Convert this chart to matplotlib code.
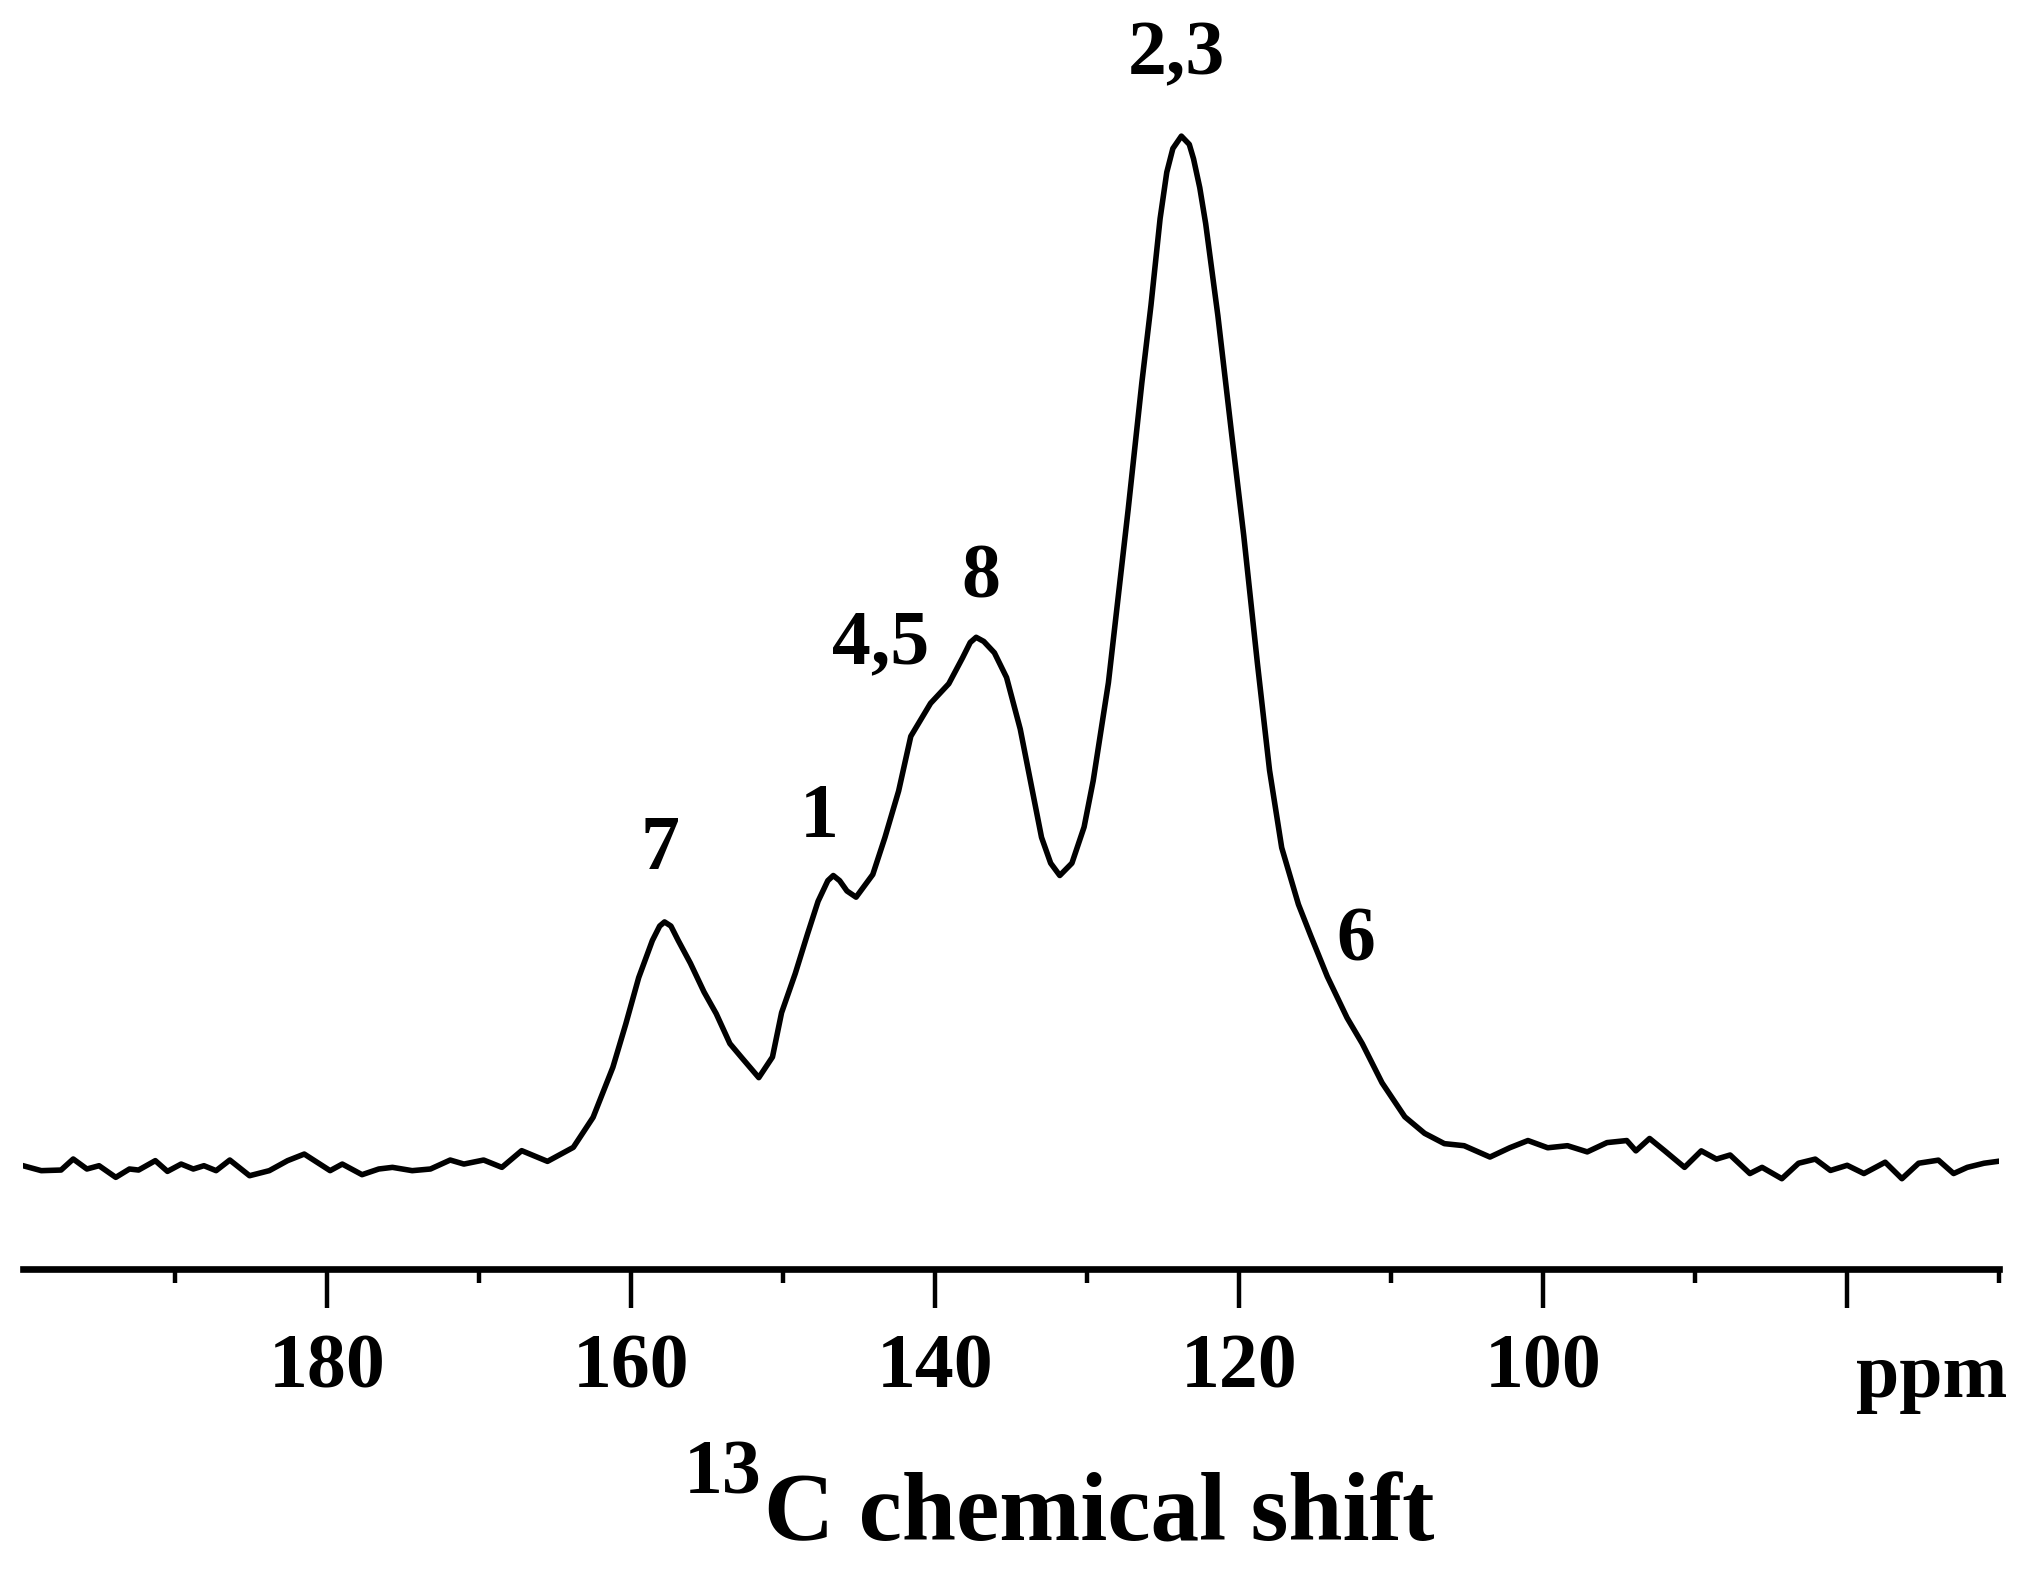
import matplotlib.pyplot as plt

# 13C CP-MAS spectrum
shift_ppm = [
    200.0, 198.8, 197.5, 196.7, 195.8, 195.0, 193.9, 193.0, 192.4, 191.3,
    190.5, 189.6, 188.8, 188.1, 187.3, 186.4, 185.1, 183.8, 182.6, 181.5,
    179.8, 179.0, 177.7, 176.6, 175.7, 174.4, 173.2, 171.9, 171.0, 169.7,
    168.5, 167.2, 165.5, 163.8, 162.5, 161.2, 160.35, 159.5, 158.6, 158.12,
    157.8, 157.38, 156.9, 156.1, 155.2, 154.4, 153.5, 152.7, 151.6, 150.7,
    150.1, 149.2, 148.4, 147.7, 147.06, 146.7, 146.28, 145.8, 145.2, 144.1,
    143.3, 142.4, 141.6, 140.3, 139.1, 138.2, 137.69, 137.3, 136.80, 136.1,
    135.3, 134.4, 133.6, 133.0, 132.4, 131.8, 131.0, 130.2, 129.6, 128.6,
    127.3, 126.4, 125.8, 125.2, 124.76, 124.36, 123.8, 123.28, 123.0, 122.59,
    122.2, 121.4, 120.5, 119.7, 118.8, 118.0, 117.2, 116.1, 115.3, 114.2,
    112.9, 111.9, 110.6, 109.1, 107.8, 106.5, 105.2, 103.5, 102.2, 101.0,
    99.7, 98.4, 97.1, 95.8, 94.5, 93.9, 93.0, 92.0, 90.7, 89.6,
    88.6, 87.7, 86.4, 85.6, 84.3, 83.2, 82.1, 81.1, 80.0, 78.9,
    77.5, 76.4, 75.3, 74.0, 73.0, 72.1, 71.0, 70.0,
]
intensity = [
    0.16, -0.32, -0.26, 0.81, -0.16, 0.16, -0.97, -0.16, -0.26, 0.65,
    -0.39, 0.32, -0.16, 0.16, -0.32, 0.71, -0.81, -0.32, 0.65, 1.29,
    -0.32, 0.32, -0.71, -0.16, 0.0, -0.32, -0.16, 0.71, 0.32, 0.71,
    0.0, 1.62, 0.58, 1.94, 4.85, 9.7, 13.9, 18.4, 22.0, 23.4,
    23.8, 23.4, 22.0, 19.8, 17.0, 14.9, 12.0, 10.6, 8.7, 10.7,
    15.0, 18.8, 22.6, 25.8, 27.8, 28.3, 27.8, 26.8, 26.2, 28.4,
    32.0, 36.5, 41.8, 45.0, 46.9, 49.4, 50.9, 51.4, 51.0, 49.9,
    47.5, 42.5, 36.5, 32.0, 29.5, 28.3, 29.5, 33.0, 37.5, 47.0,
    63.8, 76.1, 83.6, 92.0, 96.5, 98.8, 100.0, 99.2, 97.8, 95.0,
    91.5, 82.6, 71.2, 61.3, 48.9, 38.5, 31.0, 25.5, 22.5, 18.5,
    14.5, 12.0, 8.2, 4.9, 3.3, 2.3, 2.1, 1.0, 1.9, 2.6,
    1.9, 2.1, 1.5, 2.4, 2.6, 1.6, 2.8, 1.6, 0.0, 1.6,
    0.8, 1.2, -0.6, 0.0, -1.1, 0.4, 0.8, -0.3, 0.2, -0.6,
    0.5, -1.1, 0.4, 0.7, -0.6, 0.0, 0.4, 0.6,
]

# peak assignments (label, ppm, height of label)
peak_labels = ['2,3', '8', '4,5', '1', '7', '6']
peak_ppm = [124.1, 137.0, 143.6, 147.65, 158.1, 112.3]
peak_height = [107.8, 57.1, 50.7, 33.8, 30.7, 21.9]

major_ticks = [180, 160, 140, 120, 100, 80]
major_labels = ['180', '160', '140', '120', '100', '']
minor_ticks = [190, 170, 150, 130, 110, 90, 70]

serif = ['Liberation Serif', 'DejaVu Serif']
plt.rcParams['font.family'] = serif
plt.rcParams['font.weight'] = 'bold'

fig = plt.figure(figsize=(10.2, 7.875), dpi=200)
ax = fig.add_axes([0.0113, 0.194, 0.9687, 0.7857])

ax.plot(shift_ppm, intensity, color='black', lw=2.0, solid_joinstyle='round')

ax.set_xlim(200, 70)
ax.set_ylim(-9.9, 110.1)

for side in ['top', 'left', 'right']:
    ax.spines[side].set_visible(False)
ax.spines['bottom'].set_linewidth(2.4)

ax.set_yticks([])
ax.set_xticks(major_ticks)
ax.set_xticklabels(major_labels, fontsize=28, fontweight='bold')
ax.set_xticks(minor_ticks, minor=True)
ax.tick_params(axis='x', which='major', direction='out', length=14, width=1.6, pad=9)
ax.tick_params(axis='x', which='minor', direction='out', length=5, width=1.6)

for lab, x, y in zip(peak_labels, peak_ppm, peak_height):
    ax.text(x, y, lab, ha='center', va='center', fontsize=28, fontweight='bold', clip_on=False)

fig.text(0.984, 0.113, 'ppm', ha='right', va='baseline', fontsize=28, fontweight='bold')
fig.text(0.335, 0.052, '13', ha='left', va='baseline', fontsize=28, fontweight='bold')
fig.text(0.3745, 0.0222, 'C chemical shift', ha='left', va='baseline', fontsize=35, fontweight='bold')

fig.savefig('out.png', dpi=200)
